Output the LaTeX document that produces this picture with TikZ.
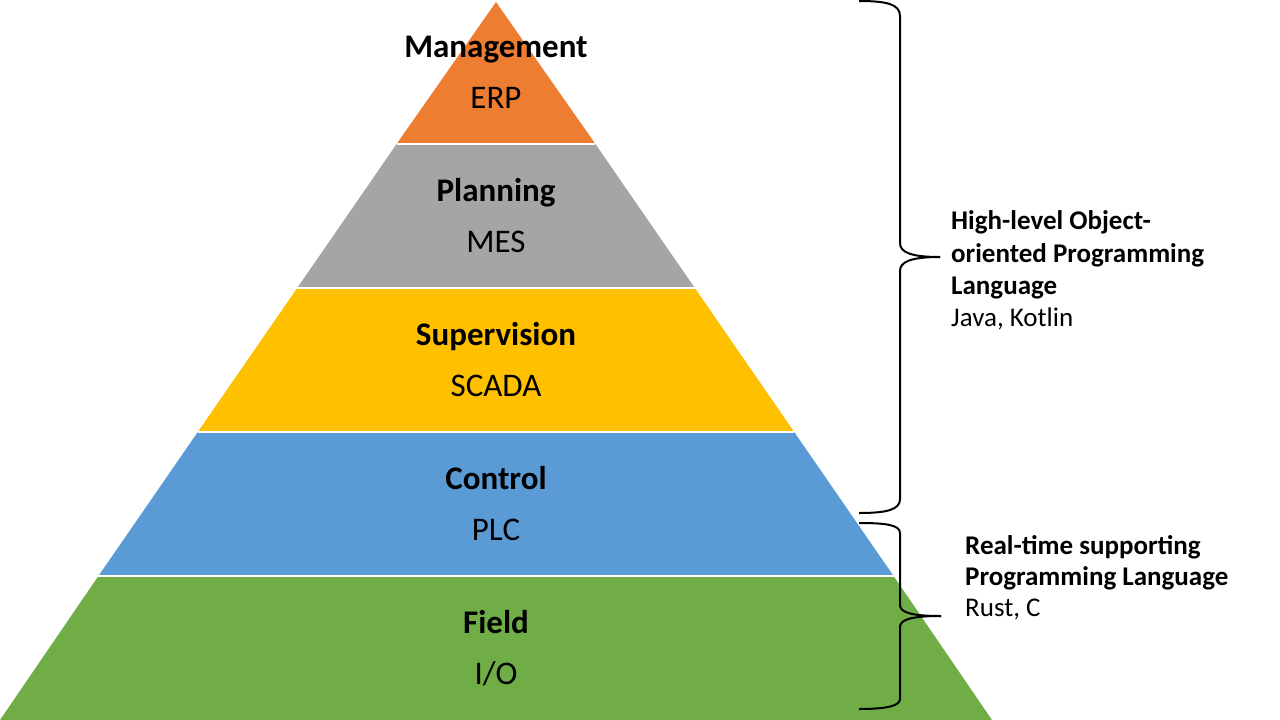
\documentclass[tikz,border=0pt]{standalone}
\usepackage{fontspec}
\setmainfont{Carlito}
\begin{document}
\begin{tikzpicture}[x=1pt,y=-1pt,
  ttl/.style={anchor=base,font=\fontsize{33}{38}\selectfont\bfseries,inner sep=0pt},
  sub/.style={anchor=base,font=\fontsize{33}{38}\selectfont,inner sep=0pt},
  side/.style={anchor=base west,font=\fontsize{27}{32}\selectfont,inner sep=0pt,align=left},
  brace/.style={draw=black,line width=2pt}]
\useasboundingbox (0,0) rectangle (1280,720);
\definecolor{cOrange}{HTML}{ED7D31}
\definecolor{cGray}{HTML}{A5A5A5}
\definecolor{cYellow}{HTML}{FFC000}
\definecolor{cBlue}{HTML}{5B9BD5}
\definecolor{cGreen}{HTML}{70AD47}
% pyramid layers
\fill[cGreen]  (0,720) -- (992,720) -- (893.6,576) -- (98.4,576) -- cycle;
\fill[cBlue]   (98.4,576) -- (893.6,576) -- (794.2,432) -- (197.8,432) -- cycle;
\fill[cYellow] (197.8,432) -- (794.2,432) -- (694.8,288) -- (297.2,288) -- cycle;
\fill[cGray]   (297.2,288) -- (694.8,288) -- (595.4,144) -- (396.6,144) -- cycle;
\fill[cOrange] (396.6,144) -- (595.4,144) -- (496,2) -- cycle;
\draw[white,line width=2pt] (98.4,576) -- (893.6,576) (197.8,432) -- (794.2,432)
  (297.2,288) -- (694.8,288) (396.6,144) -- (595.4,144);
% labels
\node[ttl] (t1) at (496,57) {Management};
\node[sub] (s1) at (496,108) {ERP};
\node[ttl] (t2) at (496,201) {Planning};
\node[sub] (s2) at (496,252) {MES};
\node[ttl] (t3) at (496,345) {Supervision};
\node[sub] (s3) at (496,396) {SCADA};
\node[ttl] (t4) at (496,489) {Control};
\node[sub] (s4) at (496,540) {PLC};
\node[ttl] (t5) at (496,633) {Field};
\node[sub] (s5) at (496,684) {I/O};
% braces
\draw[brace] (859,1) .. controls (886,1) and (900,4) .. (900,16) -- (900,243)
  .. controls (900,252) and (910,257) .. (940,257);
\draw[brace] (940,257) .. controls (910,257) and (900,262) .. (900,271) -- (900,499)
  .. controls (900,510) and (886,513) .. (859,513);
\draw[brace] (859,523) .. controls (886,523) and (900,525) .. (900,533) -- (900,605)
  .. controls (900,612) and (910,616) .. (941,616);
\draw[brace] (941,616) .. controls (910,616) and (900,620) .. (900,627) -- (900,699)
  .. controls (900,706) and (886,709) .. (859,709);
% side texts
\node[side] (h1) at (951,229) {\bfseries High-level Object-};
\node[side] (h2) at (951,262) {\bfseries oriented Programming};
\node[side] (h3) at (951,294) {\bfseries Language};
\node[side] (h4) at (951,326) {Java, Kotlin};
\node[side] (r1) at (965,554) {\bfseries Real-time supporting};
\node[side] (r2) at (965,585) {\bfseries Programming Language};
\node[side] (r3) at (965,616) {Rust, C};
\end{tikzpicture}
\end{document}
